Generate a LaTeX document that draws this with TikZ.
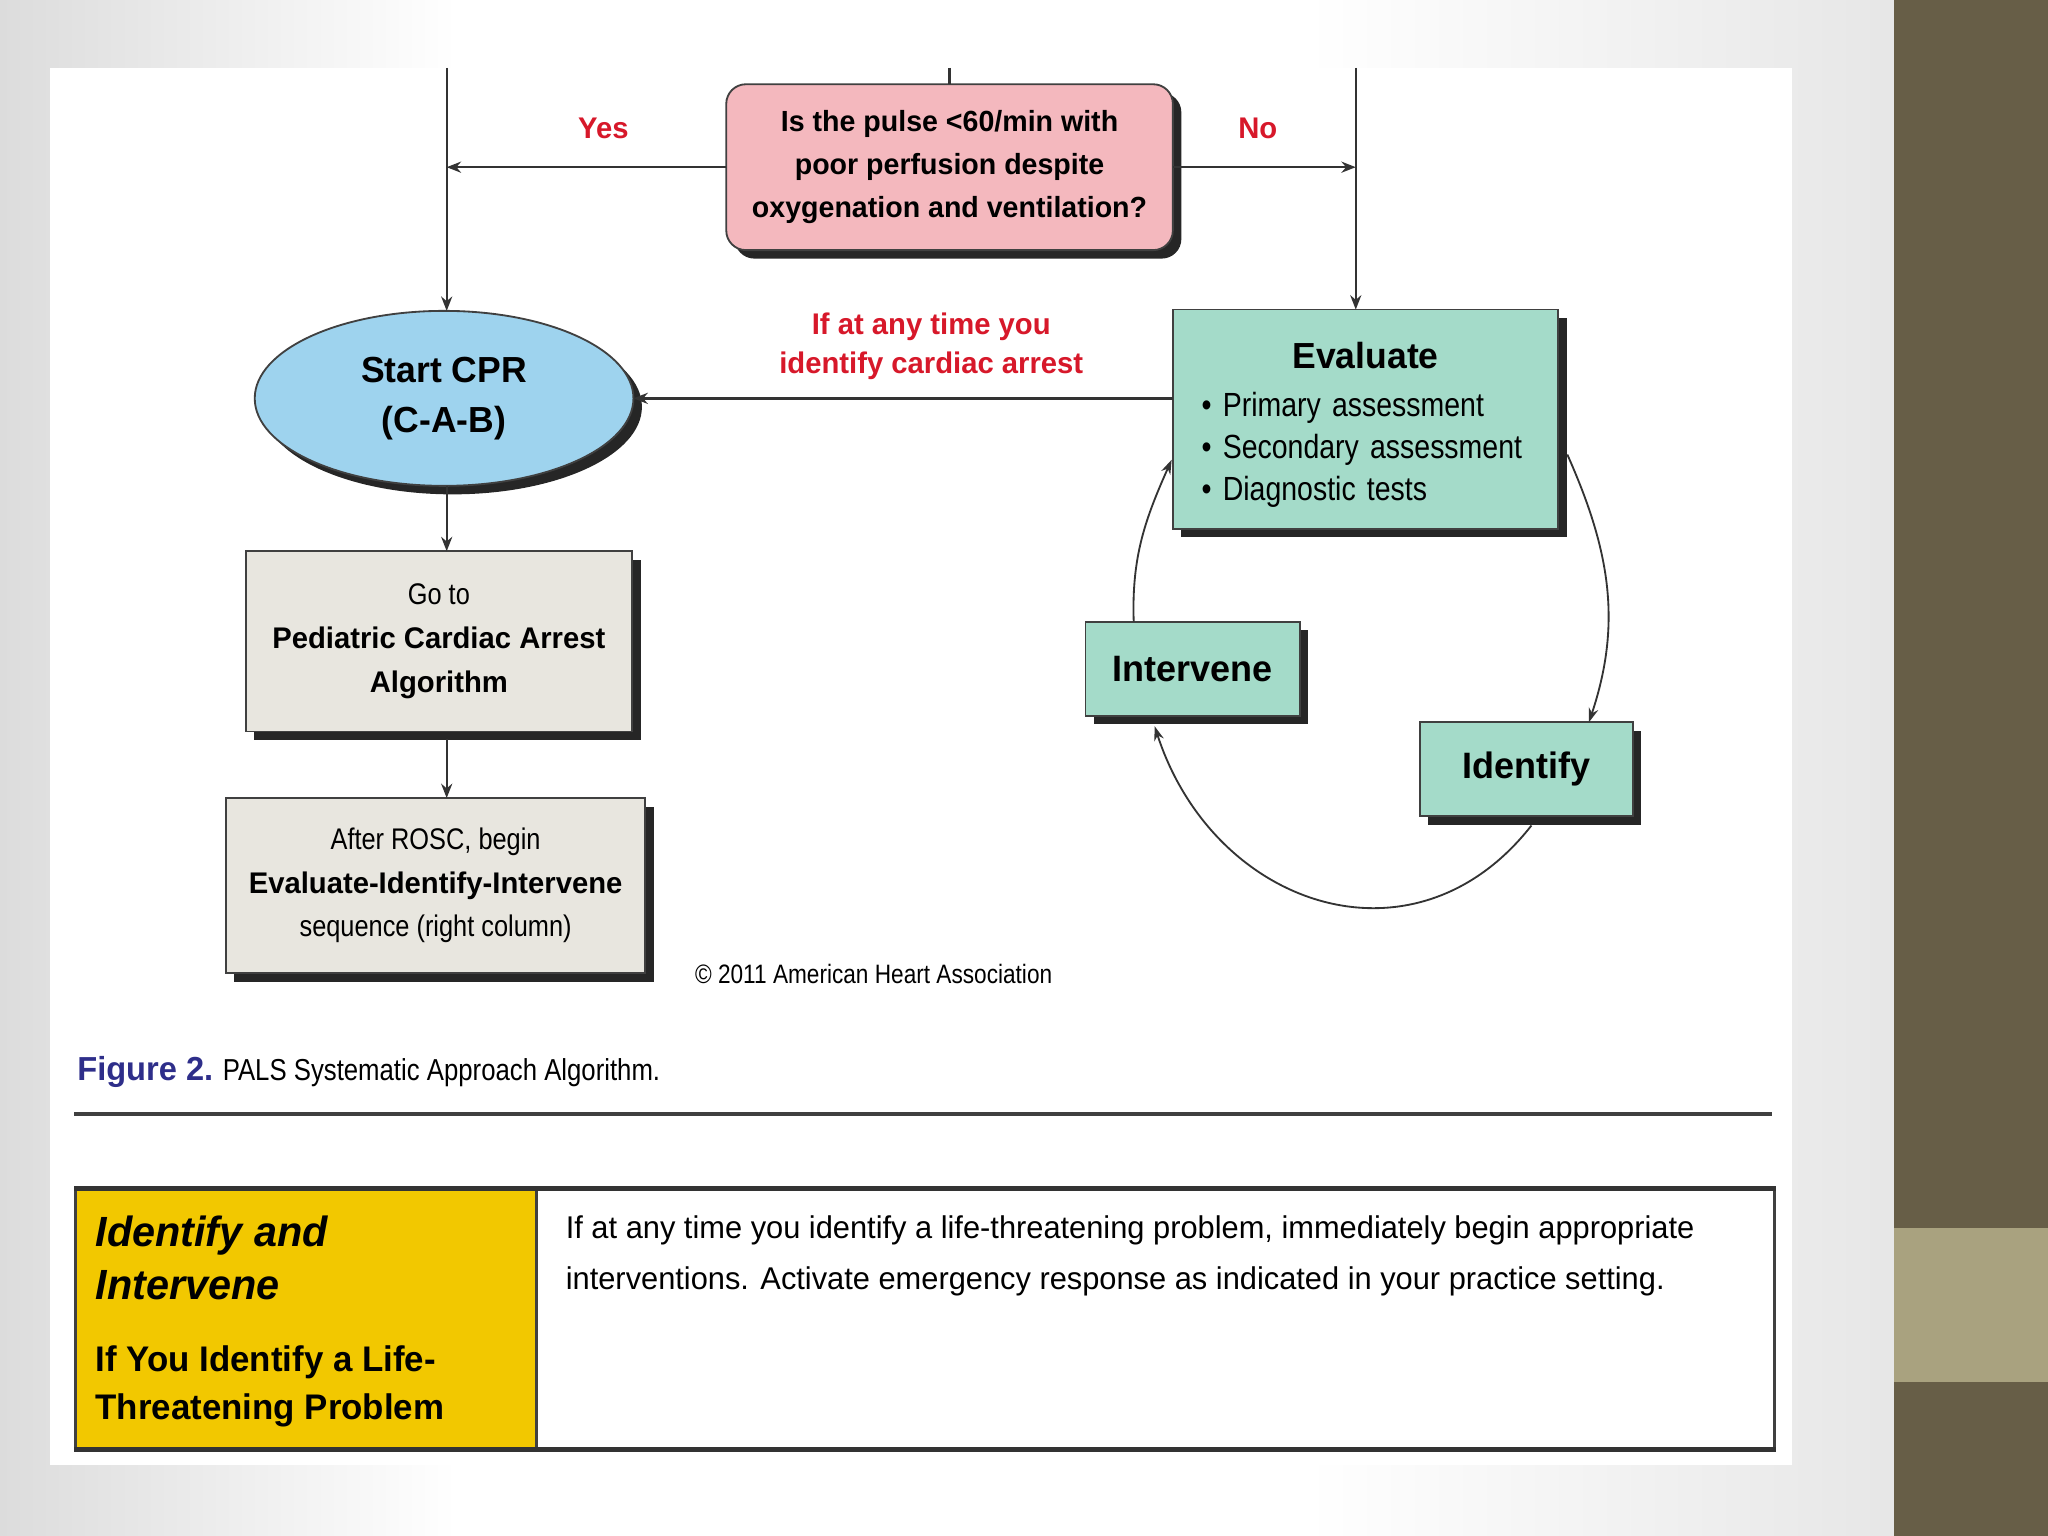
\documentclass[tikz,border=0pt]{standalone}
\usepackage{fontspec}
\setmainfont[FakeStretch=0.85]{Liberation Sans}
\newfontfamily\bfam[FakeStretch=0.98]{Liberation Sans}
\usetikzlibrary{shapes.geometric,arrows.meta,calc,shadows}
\definecolor{pinkbox}{HTML}{F4B8BE}
\definecolor{cprblue}{HTML}{9ED3EE}
\definecolor{mint}{HTML}{A4DBC9}
\definecolor{graybox}{HTML}{E8E6DF}
\definecolor{tabyellow}{HTML}{F2C800}
\definecolor{alertred}{HTML}{D7182A}
\definecolor{figblue}{HTML}{2E2E8A}
\definecolor{olive}{HTML}{675E47}
\definecolor{lightolive}{HTML}{A9A27F}
\definecolor{slidegray}{HTML}{DCDCDC}
\newcommand\myfs[2]{\fontsize{#1}{#2}\selectfont}
\begin{document}
\begin{tikzpicture}[x=0.02cm,y=-0.02cm,
  arr/.style={draw=black!80, line width=1pt, -{Stealth[length=0.22cm,width=0.17cm]}},
  ln/.style={draw=black!80, line width=1pt},
  cyc/.style={draw=black!80, line width=0.8pt, -{Stealth[length=0.22cm,width=0.15cm]}},
  boxsh/.style={draw=black!75, line width=0.8pt, drop shadow={shadow xshift=0.13cm, shadow yshift=-0.13cm, fill=black!85, opacity=1}, inner sep=0pt, outer sep=0pt},
  redlbl/.style={text=alertred, font=\bfam\myfs{13}{17}\bfseries, align=center},
]
\useasboundingbox (0,0) rectangle (1568,1176);
% slide background
\shade[left color=slidegray, right color=white] (0,0) rectangle (350,1176);
\fill[white] (350,0) rectangle (1000,1176);
\shade[left color=white, right color=slidegray!70] (1000,0) rectangle (1450,1176);
\fill[olive] (1450,0) rectangle (1568,1176);
\fill[lightolive] (1450,940) rectangle (1568,1058);
% page
\fill[white] (38,52) rectangle (1372,1122);

% nodes
\node[boxsh, fill=pinkbox, rounded corners=0.3cm, minimum width=6.84cm, minimum height=2.54cm, align=center, font=\bfam\myfs{12.7}{18.8}\bfseries] (dec) at (727,128) {Is the pulse <60/min with\\poor perfusion despite\\oxygenation and ventilation?};
\node[boxsh, ellipse, fill=cprblue, minimum width=5.8cm, minimum height=2.68cm, align=center, font=\bfam\myfs{15.8}{22}\bfseries] (cpr) at (340,305) {Start CPR\\(C-A-B)};
\node[boxsh, fill=mint, minimum width=5.9cm, minimum height=3.36cm, text width=5.02cm, align=left, font=\myfs{14.6}{18.2}] (eval) at (1045.5,321) {\makebox[\linewidth][c]{\rule{0pt}{16pt}\bfam\myfs{15.8}{20}\bfseries Evaluate}\\[3pt]\textbullet\ Primary assessment\\\textbullet\ Secondary assessment\\\textbullet\ Diagnostic tests};
\node[boxsh, fill=mint, minimum width=3.28cm, minimum height=1.44cm, font=\bfam\myfs{16}{20}\bfseries] (interv) at (913,512) {Intervene};
\node[boxsh, fill=mint, minimum width=3.26cm, minimum height=1.44cm, font=\bfam\myfs{16}{20}\bfseries] (ident) at (1168.5,589) {Identify};
\node[boxsh, fill=graybox, minimum width=5.92cm, minimum height=2.76cm, align=center, font=\myfs{13}{19}] (goto) at (336,491) {Go to\\{\bfam\bfseries Pediatric Cardiac Arrest}\\{\bfam\bfseries Algorithm}};
\node[boxsh, fill=graybox, minimum width=6.42cm, minimum height=2.68cm, align=center, font=\myfs{13}{19}] (rosc) at (333.5,678) {After ROSC, begin\\{\bfam\bfseries Evaluate-Identify-Intervene}\\sequence (right column)};

% labels
\node[redlbl] (yes) at (462,98) {Yes};
\node[redlbl] (no) at (963,98) {No};
\node[redlbl] (arrestlbl) at (713,265) {If at any time you\\identify cardiac arrest};
\node[anchor=west, font=\myfs{11.6}{13}] (copy) at (526,746) {© 2011 American Heart Association};

% connectors
\coordinate (tl) at (342,52);
\coordinate (tr) at (1038,52);
\coordinate (tm) at (727,52);
\draw[arr] (tl) -- (tl |- cpr.north);
\draw[arr] (tr) -- (tr |- eval.north);
\draw[ln] (tm) -- (dec.north);
\draw[arr] (dec.west) -- (dec.west -| tl);
\draw[arr] (dec.east) -- (dec.east -| tr);
\draw[arr] (eval.west |- cpr.east) -- (cpr.east);
\draw[arr] (cpr.south -| tl) -- (tl |- goto.north);
\draw[arr] (tl |- goto.south) ++(0,6) -- (tl |- rosc.north);
\draw[cyc] ([shift={(7,27)}]eval.east) to[out=-66,in=71.5] ([shift={(48,0)}]ident.north);
\draw[cyc] ([shift={(4,7)}]ident.south) to[out=-128,in=-72,looseness=1.25] ([shift={(-29,8)}]interv.south);
\draw[cyc] ([shift={(-45,0)}]interv.north) to[out=92,in=-114] ([shift={(-1,31)}]eval.west);

% caption and rule
\node[anchor=west, font=\myfs{13.2}{15}] (cap) at (53,821) {\textcolor{figblue}{\bfam\myfs{14.5}{17}\bfseries Figure 2.} PALS Systematic Approach Algorithm.};
\draw[line width=1.6pt, black!75] (57,853) -- (1357,853);

% table
\node[draw=black!75, line width=1pt, fill=tabyellow, minimum width=7.06cm, minimum height=3.96cm, inner sep=0pt, anchor=north west] (tleft) at (57,910) {};
\node[draw=black!75, line width=1pt, fill=white, minimum width=18.96cm, minimum height=3.96cm, inner sep=0pt, anchor=north west] (tright) at (410,910) {};
\draw[line width=2.5pt, black!80] (tleft.north west) -- (tright.north east);
\draw[line width=2.5pt, black!80] (tleft.south west) -- (tright.south east);
\node[anchor=west, align=left, font=\bfam\myfs{18.4}{22.8}\bfseries\itshape] (ti) at (67,963) {Identify and\\Intervene};
\node[anchor=west, align=left, font=\bfam\myfs{15.5}{21}\bfseries] (ts) at (67,1061.5) {If You Identify a Life-\\Threatening Problem};
\node[anchor=west, align=left, font=\bfam\myfs{13.7}{22.2}] (tb) at (427,961.5) {If at any time you identify a life-threatening problem, immediately begin appropriate\\interventions. Activate emergency response as indicated in your practice setting.};
\end{tikzpicture}
\end{document}
